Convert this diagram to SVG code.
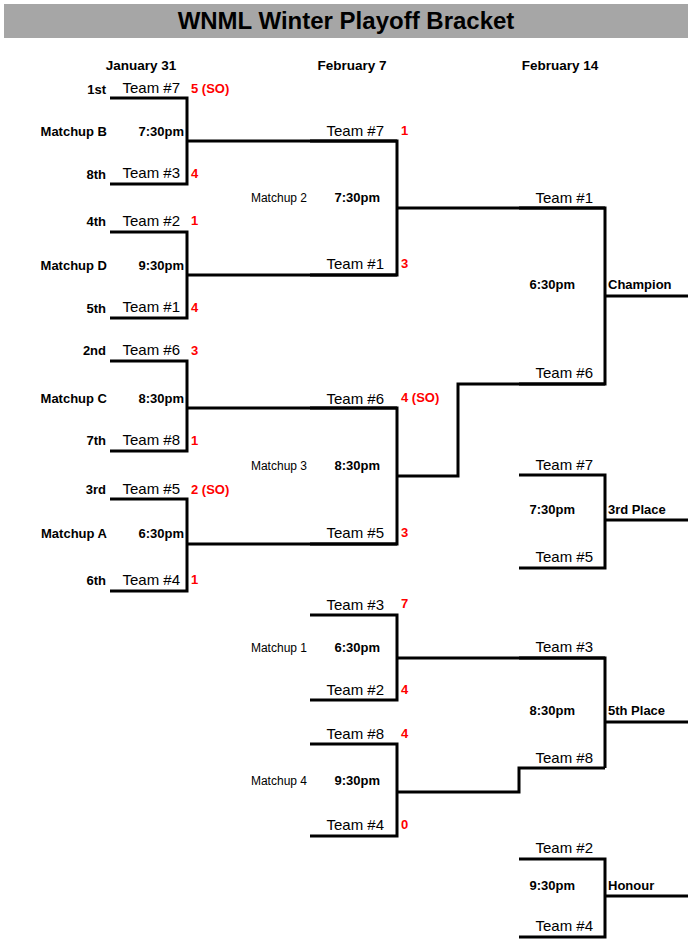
<svg xmlns="http://www.w3.org/2000/svg" width="695" height="944" viewBox="0 0 695 944">
<style>
text{font-family:"Liberation Sans",Arial,sans-serif;fill:#000}
.t{font-size:15px;text-anchor:end}
.b{font-size:13px;font-weight:bold}
.e{text-anchor:end}
.s{font-size:13px;font-weight:bold;fill:#ff0000}
.m{font-size:12px;text-anchor:end}
.h{font-size:13.5px;font-weight:bold;text-anchor:middle}
#connectors path{fill:none;stroke:#000;stroke-width:3}
</style>
<rect x="4" y="4" width="684" height="34" fill="#a6a6a6"/>
<text x="346" y="29" font-size="24" font-weight="bold" text-anchor="middle">WNML Winter Playoff Bracket</text>
<text class="h" x="141" y="70">January 31</text>
<text class="h" x="352" y="70">February 7</text>
<text class="h" x="560" y="70">February 14</text>
<g id="connectors">
<path d="M110 98H187V184H110M187 141H397"/>
<path d="M110 232H187V318H110M187 275H397"/>
<path d="M110 361H187V451H110M187 408H397"/>
<path d="M110 499H187V591H110M187 544H397"/>
<path d="M310 141H397V275H310M397 208H605"/>
<path d="M310 408H397V544H310M397 476H458V384H605"/>
<path d="M519 208H605V384H519M605 296H688"/>
<path d="M519 475H605V568H519M605 520H688"/>
<path d="M310 615H397V700H310M397 658H605"/>
<path d="M310 744H397V836H310M397 792H519V768H605"/>
<path d="M519 658H605V768M605 722H688"/>
<path d="M519 859H605V937H519M605 896H688"/>
</g>
<g id="matchupB">
<text class="b e" x="106" y="94">1st</text><text class="t" x="180" y="93">Team #7</text><text class="s" x="191" y="93">5 (SO)</text>
<text class="b e" x="107" y="136">Matchup B</text><text class="b e" x="184" y="136">7:30pm</text>
<text class="b e" x="106" y="179">8th</text><text class="t" x="180" y="178">Team #3</text><text class="s" x="191" y="178">4</text>
</g>
<g id="matchupD">
<text class="b e" x="106" y="226">4th</text><text class="t" x="180" y="226">Team #2</text><text class="s" x="191" y="225">1</text>
<text class="b e" x="107" y="270">Matchup D</text><text class="b e" x="184" y="270">9:30pm</text>
<text class="b e" x="106" y="313">5th</text><text class="t" x="180" y="312">Team #1</text><text class="s" x="191" y="312">4</text>
</g>
<g id="matchupC">
<text class="b e" x="106" y="355">2nd</text><text class="t" x="180" y="355">Team #6</text><text class="s" x="191" y="355">3</text>
<text class="b e" x="107" y="403">Matchup C</text><text class="b e" x="184" y="403">8:30pm</text>
<text class="b e" x="106" y="445">7th</text><text class="t" x="180" y="445">Team #8</text><text class="s" x="191" y="445">1</text>
</g>
<g id="matchupA">
<text class="b e" x="106" y="494">3rd</text><text class="t" x="180" y="494">Team #5</text><text class="s" x="191" y="494">2 (SO)</text>
<text class="b e" x="107" y="538">Matchup A</text><text class="b e" x="184" y="538">6:30pm</text>
<text class="b e" x="106" y="585">6th</text><text class="t" x="180" y="585">Team #4</text><text class="s" x="191" y="584">1</text>
</g>
<g id="matchup2">
<text class="t" x="384" y="136">Team #7</text><text class="s" x="401" y="135">1</text>
<text class="m" x="307" y="202">Matchup 2</text><text class="b e" x="380" y="202">7:30pm</text>
<text class="t" x="384" y="269">Team #1</text><text class="s" x="401" y="268">3</text>
</g>
<g id="matchup3">
<text class="t" x="384" y="404">Team #6</text><text class="s" x="401" y="402">4 (SO)</text>
<text class="m" x="307" y="470">Matchup 3</text><text class="b e" x="380" y="470">8:30pm</text>
<text class="t" x="384" y="538">Team #5</text><text class="s" x="401" y="537">3</text>
</g>
<g id="matchup1">
<text class="t" x="384" y="610">Team #3</text><text class="s" x="401" y="608">7</text>
<text class="m" x="307" y="652">Matchup 1</text><text class="b e" x="380" y="652">6:30pm</text>
<text class="t" x="384" y="695">Team #2</text><text class="s" x="401" y="694">4</text>
</g>
<g id="matchup4">
<text class="t" x="384" y="739">Team #8</text><text class="s" x="401" y="738">4</text>
<text class="m" x="307" y="785">Matchup 4</text><text class="b e" x="380" y="785">9:30pm</text>
<text class="t" x="384" y="830">Team #4</text><text class="s" x="401" y="829">0</text>
</g>
<g id="champion">
<text class="t" x="593" y="203">Team #1</text>
<text class="b e" x="575" y="289">6:30pm</text>
<text class="b" x="608" y="289">Champion</text>
<text class="t" x="593" y="378">Team #6</text>
</g>
<g id="third">
<text class="t" x="593" y="470">Team #7</text>
<text class="b e" x="575" y="514">7:30pm</text>
<text class="b" x="608" y="514">3rd Place</text>
<text class="t" x="593" y="562">Team #5</text>
</g>
<g id="fifth">
<text class="t" x="593" y="652">Team #3</text>
<text class="b e" x="575" y="715">8:30pm</text>
<text class="b" x="608" y="715">5th Place</text>
<text class="t" x="593" y="763">Team #8</text>
</g>
<g id="honour">
<text class="t" x="593" y="853">Team #2</text>
<text class="b e" x="575" y="890">9:30pm</text>
<text class="b" x="608" y="890">Honour</text>
<text class="t" x="593" y="931">Team #4</text>
</g>
</svg>
